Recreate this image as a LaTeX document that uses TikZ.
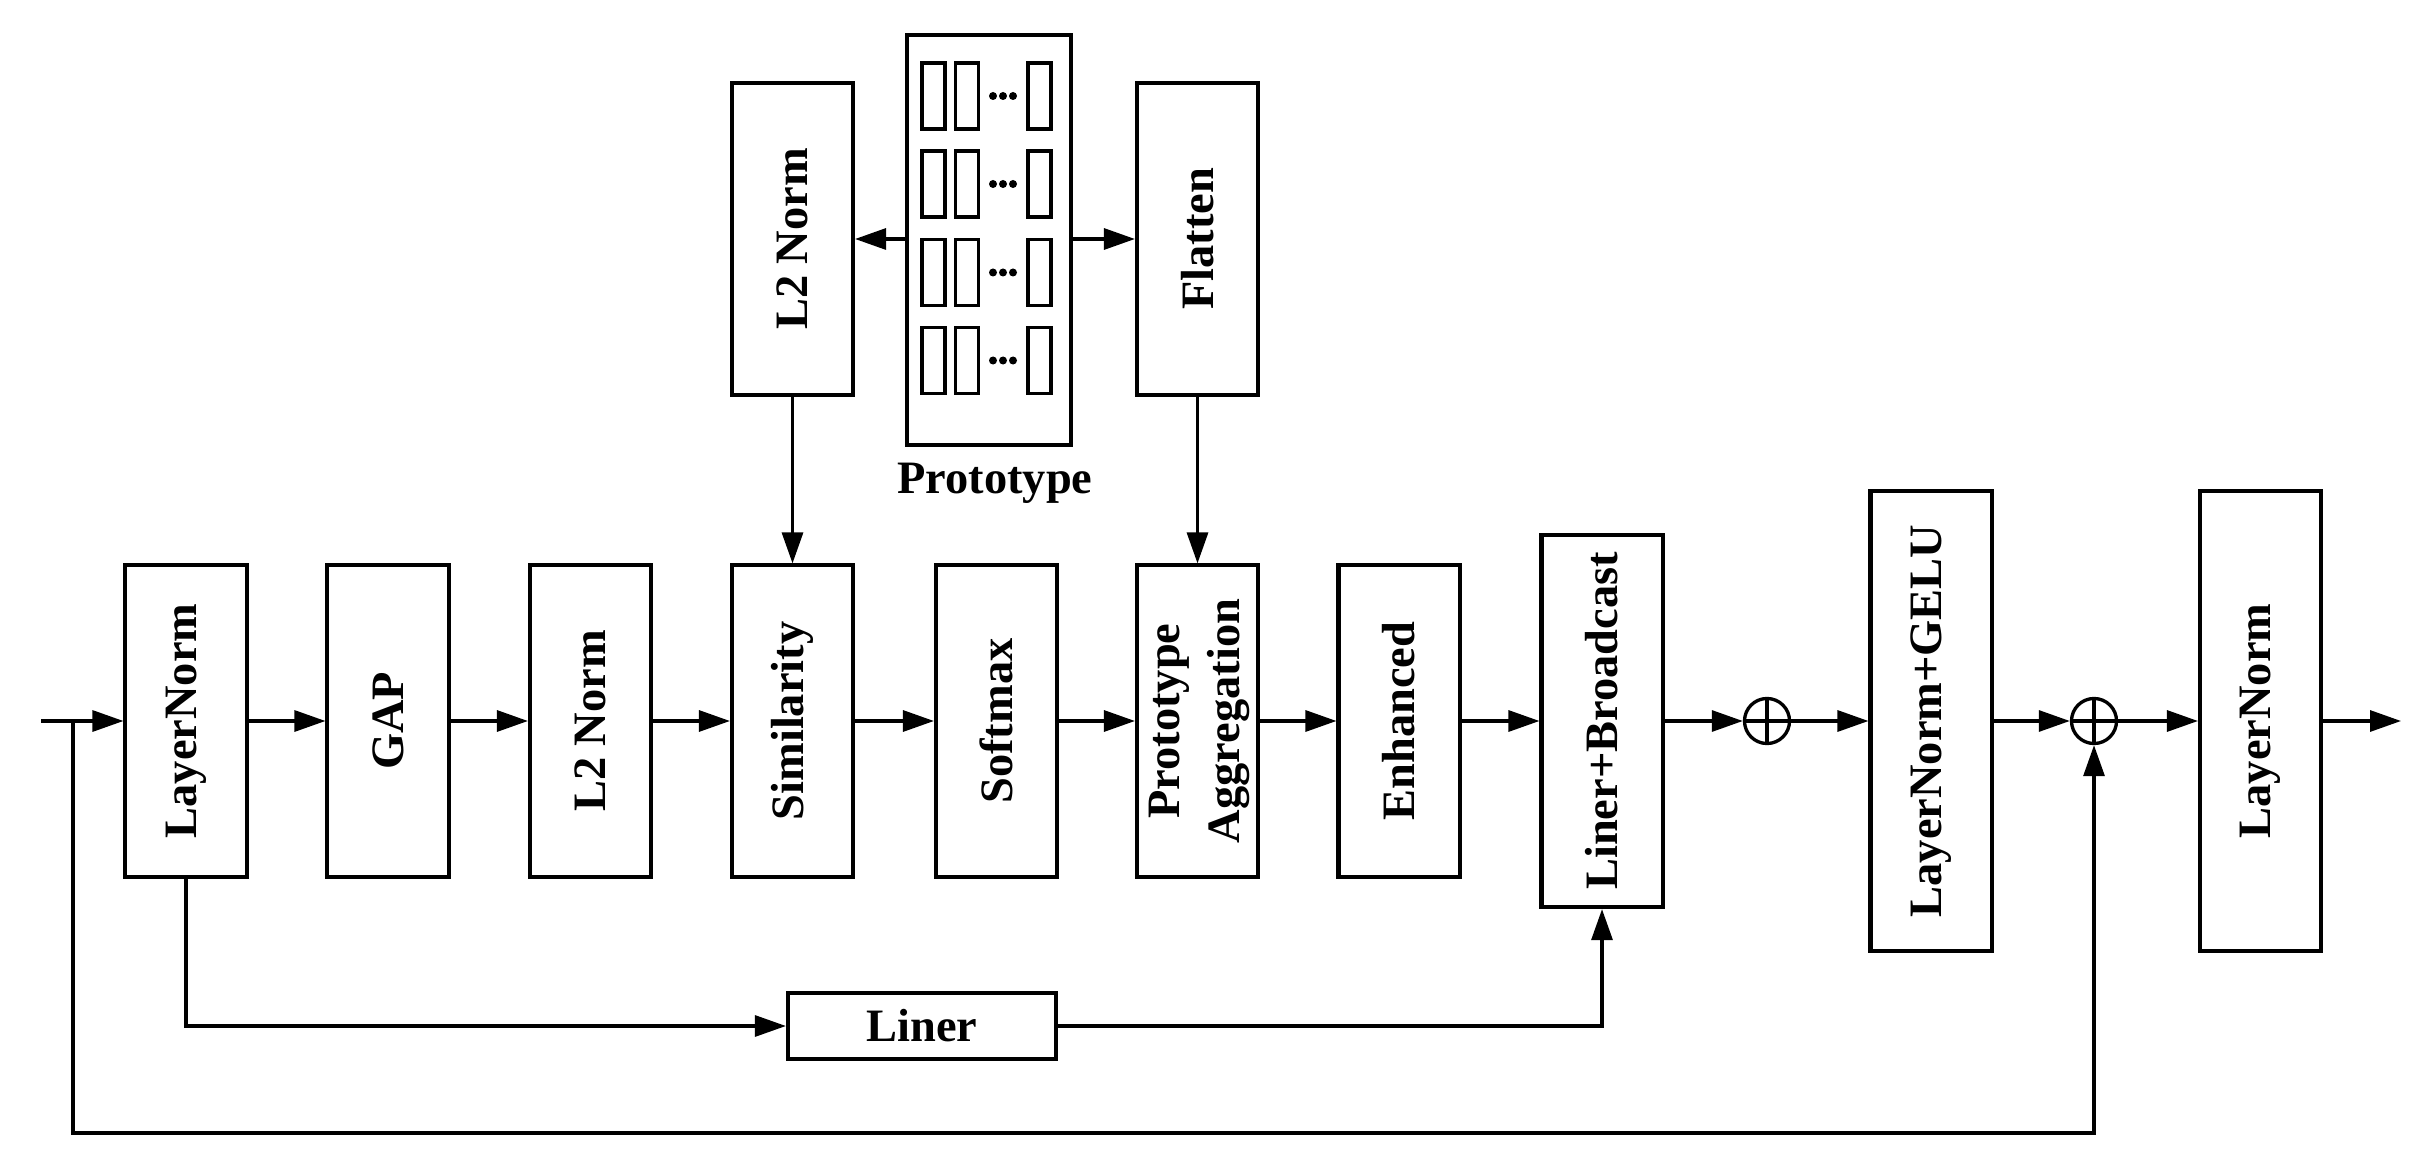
\documentclass[tikz,border=0pt]{standalone}
\usepackage{fontspec}
\usepackage{graphicx}
\setmainfont{Liberation Serif}
\usetikzlibrary{arrows.meta}
\newcommand\dlabfont{\fontsize{13.2}{17}\selectfont\bfseries}
\begin{document}
\begin{tikzpicture}[x=0.01cm,y=-0.01cm,line width=0.9pt,
  blk/.style={draw,line width=1.15pt,inner sep=0pt,minimum width=1.21cm,font=\dlabfont},
  rowblk/.style={blk,minimum height=3.11cm},
  topblk/.style={blk,minimum height=3.12cm},
  arr/.style={-{Triangle[length=0.31cm,width=0.21cm]}},
  cell/.style={draw,line width=0.95pt,inner sep=0pt,minimum width=0.23cm,minimum height=0.66cm},
  dot/.style={fill,circle,inner sep=0pt,minimum size=0.08cm},
  oplus/.style={draw,circle,line width=0.95pt,inner sep=0pt,minimum size=0.45cm,
    path picture={\draw[line width=0.9pt] (path picture bounding box.north) -- (path picture bounding box.south)
      (path picture bounding box.west) -- (path picture bounding box.east);}}]
\useasboundingbox (0,0) rectangle (2415,1158);

% main row
\node[rowblk] (ln1) at (186,721) {\rotatebox{90}{LayerNorm}};
\node[rowblk] (gap) at (388,721) {\rotatebox{90}{GAP}};
\node[rowblk] (l2a) at (590.5,721) {\rotatebox{90}{L2 Norm}};
\node[rowblk] (sim) at (792.5,721) {\rotatebox{90}{Similarity}};
\node[rowblk] (soft) at (996.5,721) {\rotatebox{90}{Softmax}};
\node[rowblk] (pa) at (1197.5,721) {\rotatebox{90}{\begin{tabular}{@{}c@{}}Prototype\\Aggregation\end{tabular}}};
\node[rowblk] (enh) at (1399,721) {\rotatebox{90}{Enhanced}};
\node[blk,minimum height=3.72cm] (lb) at (1602,721) {\rotatebox{90}{Liner+Broadcast}};
\node[oplus] (op1) at (1767,721) {};
\node[blk,minimum height=4.59cm] (lg) at (1931,721) {\rotatebox{90}{LayerNorm+GELU}};
\node[oplus] (op2) at (2094,721) {};
\node[blk,minimum height=4.59cm] (ln2) at (2260.5,721) {\rotatebox{90}{LayerNorm}};

% top part
\node[topblk] (l2b) at (792.5,239) {\rotatebox{90}{L2 Norm}};
\node[topblk] (flat) at (1197.5,239) {\rotatebox{90}{Flatten}};
\node[draw,line width=1.15pt,inner sep=0pt,minimum width=1.645cm,minimum height=4.1cm] (proto) at (989,240) {};
\node[font=\dlabfont,inner sep=0pt] (plab) at (995,483) {Prototype};
\foreach \r/\yy in {1/96,2/184,3/272.5,4/360.5}{
  \node[cell] (c\r a) at (933.5,\yy) {};
  \node[cell] (c\r b) at (967,\yy) {};
  \node[cell] (c\r c) at (1039.5,\yy) {};
  \node[dot] (d\r a) at (993,\yy) {};
  \node[dot] (d\r b) at (1003,\yy) {};
  \node[dot] (d\r c) at (1013,\yy) {};
}

% bottom
\node[blk,minimum width=2.68cm,minimum height=0.66cm] (liner) at (922,1026) {Liner};

\coordinate (in) at (41,721);
\coordinate (out) at (2401,721);
\coordinate (sp) at (73,721);
\coordinate (sk) at (73,1133);

% connectors
\draw[arr] (in) -- (ln1.west);
\draw[arr] (ln1) -- (gap);
\draw[arr] (gap) -- (l2a);
\draw[arr] (l2a) -- (sim);
\draw[arr] (sim) -- (soft);
\draw[arr] (soft) -- (pa);
\draw[arr] (pa) -- (enh);
\draw[arr] (enh) -- (lb);
\draw[arr] (lb) -- (op1);
\draw[arr] (op1) -- (lg);
\draw[arr] (lg) -- (op2);
\draw[arr] (op2) -- (ln2);
\draw[arr] (ln2.east) -- (out);
\draw[arr] (proto.west |- 0,239) -- (l2b.east);
\draw[arr] (proto.east |- 0,239) -- (flat.west);
\draw[arr] (l2b) -- (sim);
\draw[arr] (flat) -- (pa);
\draw[arr] (ln1.south) |- (liner.west);
\draw[arr] (liner.east) -| (lb.south);
\draw[arr] (sp) -- (sk) -| (op2.south);
\end{tikzpicture}
\end{document}
